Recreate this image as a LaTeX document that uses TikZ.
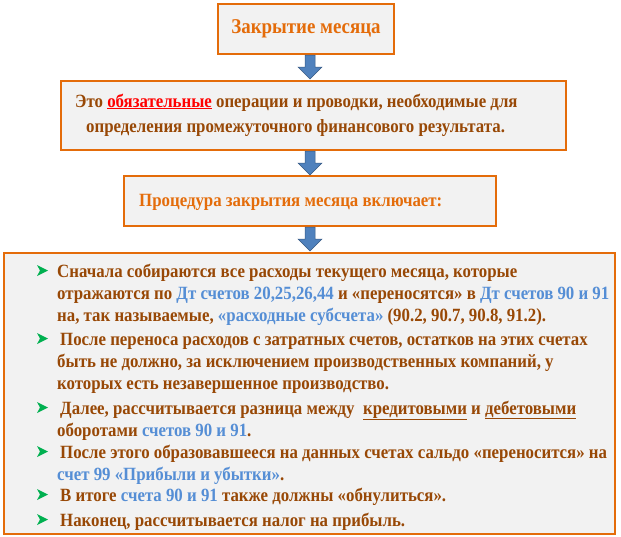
\documentclass[tikz,border=0pt]{standalone}
\usepackage{fontspec}
\setmainfont{Liberation Serif}[FakeStretch=0.9]
\usepackage{xcolor}
\definecolor{orng}{HTML}{E46C0A}
\definecolor{brn}{HTML}{984806}
\definecolor{blu}{HTML}{558ED5}
\definecolor{arr}{HTML}{4F81BD}
\definecolor{bg}{HTML}{F2F2F2}
\definecolor{grn}{HTML}{00B050}
\begin{document}
\begin{tikzpicture}[x=1pt,y=-1pt,
  box/.style={draw=orng,line width=2pt,fill=bg},
  ln/.style={anchor=base west,inner sep=0pt,text=brn,font=\fontsize{18.7}{20}\bfseries},
  down/.style={fill=arr,draw=arr!70!black,line width=0.5pt}]
\useasboundingbox (0,0) rectangle (621,536);
\newcommand\bul[1]{\fill[grn] (37,#1-11) -- (48,#1-5.5) -- (37,#1) -- (40,#1-5.5) -- cycle;}
\newcommand\darr[2]{\draw[down] (305,#1) -- (315,#1) -- (315,#1+12) -- (322,#1+12) -- (310,#2) -- (298,#1+12) -- (305,#1+12) -- cycle;}
% boxes
\draw[box] (218,4) rectangle (394,54) node[pos=.5,text=orng,font=\fontsize{21}{23}\bfseries] (t1) {Закрытие месяца};
\draw[box] (61,81) rectangle (566,150);
\draw[box] (124,176) rectangle (496,226);
\draw[box] (4,253) rectangle (615,534);
\darr{55}{79}
\darr{151}{175}
\darr{227}{251}
\node[ln] (a1) at (75,107) {Это {\color{red}\underline{обязательные}} операции и проводки, необходимые для};
\node[ln] (a2) at (86,132) {определения промежуточного финансового результата.};
\node[ln,text=orng] (b1) at (139,206) {Процедура закрытия месяца включает:};
% bullets
\bul{276}\bul{344}\bul{413}\bul{457}\bul{500}\bul{525}
\node[ln] (l1) at (57,277) {Сначала собираются все расходы текущего месяца, которые};
\node[ln] (l2) at (57,299) {отражаются по {\color{blu}Дт счетов 20,25,26,44} и «переносятся» в {\color{blu}Дт счетов 90 и 91}};
\node[ln] (l3) at (57,321) {на, так называемые, {\color{blu}«расходные субсчета»} (90.2, 90.7, 90.8, 91.2).};
\node[ln] (l4) at (60,345) {После переноса расходов с затратных счетов, остатков на этих счетах};
\node[ln] (l5) at (57,367) {быть не должно, за исключением производственных компаний, у};
\node[ln] (l6) at (57,389) {которых есть незавершенное производство.};
\node[ln] (l7) at (60,414) {Далее, рассчитывается разница между\ \ \underline{кредитовыми} и \underline{дебетовыми}};
\node[ln] (l8) at (57,436) {оборотами {\color{blu}счетов 90 и 91}.};
\node[ln] (l9) at (60,458) {После этого образовавшееся на данных счетах сальдо «переносится» на};
\node[ln] (l10) at (57,480) {{\color{blu}счет 99 «Прибыли и убытки»}.};
\node[ln] (l11) at (60,501) {В итоге {\color{blu}счета 90 и 91} также должны «обнулиться».};
\node[ln] (l12) at (60,526) {Наконец, рассчитывается налог на прибыль.};
\end{tikzpicture}
\end{document}
